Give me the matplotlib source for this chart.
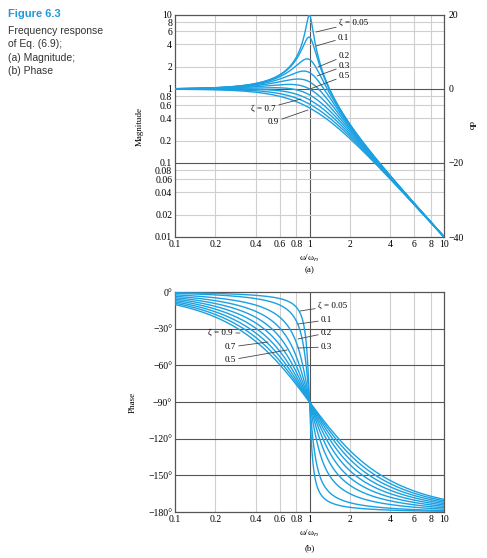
import numpy as np
import matplotlib
matplotlib.use("Agg")
import matplotlib.pyplot as plt

# ---- data ----
zetas = [0.05, 0.1, 0.2, 0.3, 0.4, 0.5, 0.6, 0.7, 0.8, 0.9]
freq_ticks = [0.1, 0.2, 0.4, 0.6, 0.8, 1, 2, 4, 6, 8, 10]
freq_labels = ["0.1", "0.2", "0.4", "0.6", "0.8", "1", "2", "4", "6", "8", "10"]
mag_ticks = [0.01, 0.02, 0.04, 0.06, 0.08, 0.1, 0.2, 0.4, 0.6, 0.8, 1, 2, 4, 6, 8, 10]
mag_labels = ["0.01", "0.02", "0.04", "0.06", "0.08", "0.1", "0.2", "0.4", "0.6", "0.8",
              "1", "2", "4", "6", "8", "10"]
db_ticks = [-40, -20, 0, 20]
db_labels = ["\u221240", "\u221220", "0", "20"]
phase_ticks = [0, -30, -60, -90, -120, -150, -180]
phase_labels = ["0\u00b0", "\u221230\u00b0", "\u221260\u00b0", "\u221290\u00b0",
                "\u2212120\u00b0", "\u2212150\u00b0", "\u2212180\u00b0"]
mag_annot = ["\u03b6 = 0.05", "0.1", "0.2", "0.3", "0.5", "\u03b6 = 0.7", "0.9"]
phase_annot = ["\u03b6 = 0.05", "0.1", "0.2", "0.3", "\u03b6 = 0.9", "0.7", "0.5"]

# frequency response of G(s) = 1 / (s^2 + 2 zeta s + 1)
w = np.logspace(-1, 1, 2001)
s = 1j * w
resp = {z: 1.0 / (s**2 + 2 * z * s + 1) for z in zetas}

W, H = 487, 558
fig = plt.figure(figsize=(W / 100, H / 100), dpi=100)

def ax_rect(x0, y0, x1, y1):
    return [x0 / W, 1 - y1 / H, (x1 - x0) / W, (y1 - y0) / H]

BLUE = "#1ba0e2"
LIGHT = "#cfcfcf"
DARK = "#555555"
SERIF = "Liberation Serif"
TFS = 7

# ---------- magnitude ----------
ax1 = fig.add_axes(ax_rect(175, 15, 444, 237))
ax1.set_xscale("log")
ax1.set_yscale("log")
ax1.set_xlim(0.1, 10)
ax1.set_ylim(0.01, 10)
for t in freq_ticks[1:-1]:
    ax1.axvline(t, color=DARK if t == 1 else LIGHT, lw=0.8, zorder=1)
for t in mag_ticks[1:-1]:
    ax1.axhline(t, color=DARK if t in (0.1, 1) else LIGHT, lw=0.8, zorder=1)
for z in zetas:
    ax1.plot(w, np.abs(resp[z]), color=BLUE, lw=1.0, zorder=3, clip_on=True)
ax1.set_xticks(freq_ticks)
ax1.set_xticklabels(freq_labels, fontfamily=SERIF, fontsize=TFS)
ax1.set_yticks(mag_ticks)
ax1.set_yticklabels(mag_labels, fontfamily=SERIF, fontsize=TFS)
ax1.minorticks_off()
ax1.tick_params(length=0, pad=2)
for sp in ax1.spines.values():
    sp.set_color(DARK)
    sp.set_linewidth(0.9)
ax1.set_xlabel("\u03c9/\u03c9$_n$", fontfamily=SERIF, fontsize=6.5, labelpad=3)
ax1.set_ylabel("Magnitude", fontfamily=SERIF, fontsize=6.5, labelpad=8)

ax1b = ax1.twinx()
ax1b.set_ylim(-40, 20)
ax1b.set_yticks(db_ticks)
ax1b.set_yticklabels(db_labels, fontfamily=SERIF, fontsize=TFS)
ax1b.tick_params(length=0, pad=3)
for sp in ax1b.spines.values():
    sp.set_visible(False)
ax1b.set_ylabel("db", fontfamily=SERIF, fontsize=6.5, rotation=270, labelpad=8)

def fx(px, x0=175, w_=269):
    return (px - x0) / w_

def fy(py, y0, h):
    return 1 - (py - y0) / h

mag_text = [(339, 23), (338, 38), (339, 56), (339, 66), (339, 76), (276, 109), (279, 122)]
mag_tip = [(316, 32), (316, 46), (318, 67), (317, 76), (310, 89), (301, 99), (308, 110)]
for i, lab in enumerate(mag_annot):
    tx, ty = mag_text[i]
    px, py = mag_tip[i]
    ha = "left" if i < 5 else "right"
    ax1.annotate(lab, xy=(fx(px), fy(py, 15, 222)), xycoords="axes fraction",
                 xytext=(fx(tx), fy(ty, 15, 222)), textcoords="axes fraction",
                 ha=ha, va="center", fontfamily=SERIF, fontsize=6.5,
                 arrowprops=dict(arrowstyle="-", color="#444444", lw=0.6,
                                 shrinkA=0, shrinkB=0), zorder=5)

fig.text(310 / W, 1 - 270 / H, "(a)", fontfamily=SERIF, fontsize=6.5, ha="center", va="center")

# ---------- phase ----------
ax2 = fig.add_axes(ax_rect(175, 292, 444, 512))
ax2.set_xscale("log")
ax2.set_xlim(0.1, 10)
ax2.set_ylim(-180, 0)
for t in freq_ticks[1:-1]:
    ax2.axvline(t, color=DARK if t == 1 else LIGHT, lw=0.8, zorder=1)
for t in phase_ticks[1:-1]:
    ax2.axhline(t, color=DARK, lw=0.8, zorder=1)
for z in zetas:
    ax2.plot(w, np.degrees(np.angle(resp[z])), color=BLUE, lw=1.0, zorder=3)
ax2.set_xticks(freq_ticks)
ax2.set_xticklabels(freq_labels, fontfamily=SERIF, fontsize=TFS)
ax2.set_yticks(phase_ticks)
ax2.set_yticklabels(phase_labels, fontfamily=SERIF, fontsize=TFS)
ax2.minorticks_off()
ax2.tick_params(length=0, pad=2)
for sp in ax2.spines.values():
    sp.set_color(DARK)
    sp.set_linewidth(0.9)
ax2.set_xlabel("\u03c9/\u03c9$_n$", fontfamily=SERIF, fontsize=6.5, labelpad=3)
ax2.set_ylabel("Phase", fontfamily=SERIF, fontsize=6.5, labelpad=8)

ph_text = [(318, 306), (321, 320), (321, 333), (321, 347), (233, 333), (236, 347), (236, 360)]
ph_tip = [(300, 311), (298, 324), (298, 339), (298, 348), (240, 333), (268, 342), (287, 350)]
for i, lab in enumerate(phase_annot):
    tx, ty = ph_text[i]
    px, py = ph_tip[i]
    ha = "left" if i < 4 else "right"
    ax2.annotate(lab, xy=(fx(px), fy(py, 292, 220)), xycoords="axes fraction",
                 xytext=(fx(tx), fy(ty, 292, 220)), textcoords="axes fraction",
                 ha=ha, va="center", fontfamily=SERIF, fontsize=6.5,
                 arrowprops=dict(arrowstyle="-", color="#444444", lw=0.6,
                                 shrinkA=0, shrinkB=0), zorder=5)

fig.text(310 / W, 1 - 548 / H, "(b)", fontfamily=SERIF, fontsize=6.5, ha="center", va="center")

# ---------- caption ----------
CAP = ["Liberation Sans Narrow", "Liberation Sans", "DejaVu Sans"]
fig.text(8 / W, 1 - 14 / H, "Figure 6.3", color="#1f9ad6", fontweight="bold",
         fontfamily=CAP, fontsize=8, ha="left", va="center")
cap_lines = ["Frequency response", "of Eq. (6.9);", "(a) Magnitude;", "(b) Phase"]
for k, line in enumerate(cap_lines):
    fig.text(8 / W, 1 - (31 + 13.3 * k) / H, line, color="#333333",
             fontfamily=CAP, fontsize=7.5, ha="left", va="center")

fig.savefig("out.png", dpi=100)
